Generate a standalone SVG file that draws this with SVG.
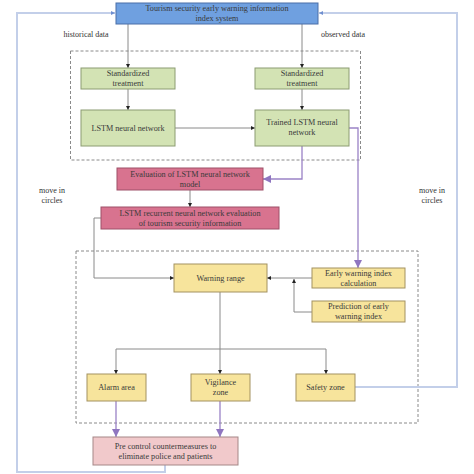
<svg xmlns="http://www.w3.org/2000/svg" width="474" height="474" viewBox="0 0 474 474">
<defs>
<style>
text{font-family:"Liberation Serif","DejaVu Serif",serif;font-size:8.2px;fill:#3a3a3a;text-anchor:middle}
.lbl{font-size:8px;fill:#333}
.blue{fill:#6fa0e0;stroke:#4a6fa8;stroke-width:1}
.green{fill:#d3e3b4;stroke:#8c9c72;stroke-width:1}
.rose{fill:#d8738f;stroke:#9e5068;stroke-width:1}
.yellow{fill:#f7e49c;stroke:#a39260;stroke-width:1}
.lpink{fill:#f1c9cb;stroke:#a58787;stroke-width:1}
.dash{fill:none;stroke:#8a8a8a;stroke-width:1;stroke-dasharray:3,2}
.gray{fill:none;stroke:#8a8a8a;stroke-width:1;marker-end:url(#ah)}
.grayn{fill:none;stroke:#8a8a8a;stroke-width:1}
.purple{fill:none;stroke:#9a82c6;stroke-width:1.3;marker-end:url(#ap)}
.loop{fill:none;stroke:#c3cfe9;stroke-width:2}
.loopa{fill:none;stroke:#c3cfe9;stroke-width:2;marker-end:url(#ab)}
</style>
<marker id="ah" viewBox="0 0 10 10" refX="10" refY="5" markerWidth="4" markerHeight="4" orient="auto" markerUnits="userSpaceOnUse"><path d="M0,0L10,5L0,10z" fill="#222"/></marker>
<marker id="ap" viewBox="0 0 10 10" refX="10" refY="5" markerWidth="8" markerHeight="8" orient="auto" markerUnits="userSpaceOnUse"><path d="M0,0L10,5L0,10z" fill="#8f76c0"/></marker>
<marker id="ab" viewBox="0 0 10 10" refX="10" refY="5" markerWidth="4" markerHeight="4" orient="auto" markerUnits="userSpaceOnUse"><path d="M0,0L10,5L0,10z" fill="#6f8fd0"/></marker>
</defs>
<rect width="474" height="474" fill="#ffffff"/>

<g id="frames">
<rect class="dash" x="70.5" y="51" width="290" height="109"/>
<rect class="dash" x="76" y="251" width="342" height="172"/>
</g>

<g id="connectors">
<!-- loops -->
<path class="loopa" d="M165,465V472H17V13H115"/>
<path class="loopa" d="M355,387H457V13H319"/>
<!-- gray -->
<path class="gray" d="M128,24V68"/>
<path class="gray" d="M302,24V68"/>
<path class="gray" d="M128,89V110"/>
<path class="gray" d="M302,89V110"/>
<path class="gray" d="M175,128H255"/>
<path class="gray" d="M190,190V207"/>
<path class="gray" d="M101,218H94V278H174"/>
<path class="gray" d="M312,278H267"/>
<path class="gray" d="M312,312H294V279"/>
<path class="gray" d="M220,292V374"/>
<path class="grayn" d="M116,349H326"/>
<path class="gray" d="M116,349V374"/>
<path class="gray" d="M326,349V374"/>
<!-- purple -->
<path class="purple" d="M302,146V179H263"/>
<path class="purple" d="M349,128H358V268"/>
<path class="purple" d="M116,401V437"/>
<path class="purple" d="M220,401V437"/>
</g>

<g id="labels">
<text class="lbl" x="86" y="37">historical data</text>
<text class="lbl" x="343" y="37">observed data</text>
<text class="lbl" x="52" y="193">move in</text>
<text class="lbl" x="52" y="203">circles</text>
<text class="lbl" x="432" y="193">move in</text>
<text class="lbl" x="432" y="203">circles</text>
</g>

<g id="n_top"><rect class="blue" x="116" y="3" width="202" height="21"/>
<text x="217" y="11">Tourism security early warning information</text><text x="217" y="20.5">index system</text></g>

<g id="n_std1"><rect class="green" x="81" y="68" width="94" height="21"/>
<text x="128" y="76">Standardized</text><text x="128" y="86">treatment</text></g>

<g id="n_std2"><rect class="green" x="255" y="68" width="94" height="21"/>
<text x="302" y="76">Standardized</text><text x="302" y="86">treatment</text></g>

<g id="n_lstm"><rect class="green" x="81" y="110" width="94" height="36"/>
<text x="128" y="131">LSTM neural network</text></g>

<g id="n_trained"><rect class="green" x="255" y="110" width="94" height="36"/>
<text x="302" y="125">Trained LSTM neural</text><text x="302" y="135">network</text></g>

<g id="n_eval"><rect class="rose" x="117" y="168" width="146" height="22"/>
<text x="190" y="177">Evaluation of LSTM neural network</text><text x="190" y="187">model</text></g>

<g id="n_rec"><rect class="rose" x="101" y="207" width="178" height="22"/>
<text x="190" y="216">LSTM recurrent neural network evaluation</text><text x="190" y="226">of tourism security information</text></g>

<g id="n_range"><rect class="yellow" x="174" y="264" width="93" height="28"/>
<text x="220.5" y="281">Warning range</text></g>

<g id="n_calc"><rect class="yellow" x="312" y="268" width="93" height="20"/>
<text x="358.5" y="276">Early warning index</text><text x="358.5" y="285.5">calculation</text></g>

<g id="n_pred"><rect class="yellow" x="312" y="301" width="93" height="21"/>
<text x="358.5" y="309">Prediction of early</text><text x="358.5" y="319">warning index</text></g>

<g id="n_alarm"><rect class="yellow" x="87" y="374" width="59" height="27"/>
<text x="116.5" y="390">Alarm area</text></g>

<g id="n_vig"><rect class="yellow" x="191" y="374" width="59" height="27"/>
<text x="220.5" y="385">Vigilance</text><text x="220.5" y="395">zone</text></g>

<g id="n_safe"><rect class="yellow" x="296" y="374" width="59" height="27"/>
<text x="325.5" y="390">Safety zone</text></g>

<g id="n_pre"><rect class="lpink" x="93" y="437" width="145" height="28"/>
<text x="165.5" y="449">Pre control countermeasures to</text><text x="165.5" y="459">eliminate police and patients</text></g>
</svg>
